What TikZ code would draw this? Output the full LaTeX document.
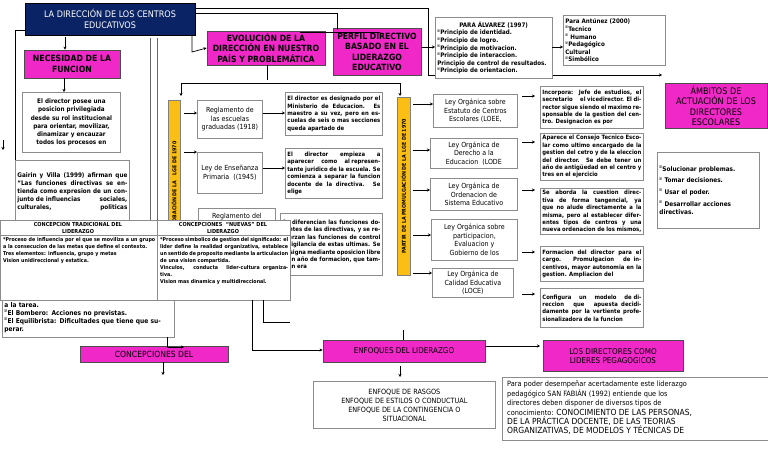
\documentclass[tikz,border=0pt]{standalone}
\usepackage{fontspec}
\setmainfont{DejaVu Sans Condensed}
\usetikzlibrary{arrows.meta}
\definecolor{mag}{RGB}{240,40,200}
\definecolor{navy}{RGB}{10,35,100}
\definecolor{org}{RGB}{250,190,20}
\begin{document}
\begin{tikzpicture}[x=1pt,y=-1pt,
 mbox/.style={draw=black!70,fill=mag,line width=0.8pt,align=center,inner sep=1pt,font=\fontsize{8.6}{10.5}\selectfont\bfseries},
 tbox/.style={draw=black!45,fill=white,line width=0.8pt,inner sep=2pt,font=\fontsize{5.9}{7.4}\selectfont\bfseries},
 lbox/.style={draw=black!45,fill=white,line width=0.8pt,align=center,inner sep=1pt,font=\fontsize{7}{8.6}\selectfont},
 obar/.style={draw=black!50,fill=org,inner sep=0pt},
 ar/.style={-{Stealth[length=3pt,width=3pt]},line width=0.7pt},
 ln/.style={line width=0.9pt}]
\useasboundingbox (0,0) rectangle (768,466);
% title
\node[fill=navy,draw=black,minimum width=170,minimum height=32,align=center,text=white,font=\fontsize{9}{11}\selectfont] (title) at (110,19) {LA DIRECCIÓN DE LOS CENTROS\\EDUCATIVOS};
\draw[ln] (15,30) -- (25,30); \draw[ln] (15,30) -- (15,240);
\draw[ar] (3,140) -- (3,150);
\draw[ln,black!60] (150,38) -- (150,222); \draw[ln,black!60] (157,38) -- (157,222);
% necesidad
\node[mbox,minimum width=96,minimum height=28] (nec) at (72,64) {NECESIDAD DE LA\\FUNCION};
\draw[ar] (65,37) -- (nec.north-|65,0);
\draw[ar] (nec.south-|64,0) -- (64,92);
\node[tbox,text width=94,align=center,minimum height=60,anchor=north west,font=\fontsize{6.3}{8.2}\selectfont\bfseries] (pos) at (22,92) {El director posee una posicion privilegiada desde su rol institucional para orientar, movilizar, dinamizar y encauzar todos los procesos en};
\node[tbox,text width=110,align=justify,anchor=north west,minimum height=62,font=\fontsize{6.3}{8}\selectfont\bfseries] (gai) at (15,160) {Gairin y Villa (1999) afirman que \quad ``Las funciones directivas se entienda como expresion de un conjunto de influencias \hfill sociales, culturales, \hfill politicas};
% bottom-left box
\node[tbox,text width=168,anchor=north west,minimum height=42,font=\fontsize{6.6}{8}\selectfont\bfseries] (tar) at (2,295) {\\a la tarea.\\\textsuperscript{¤}El Bombero: Acciones no previstas.\\\textsuperscript{¤}El Equilibrista: Dificultades que tiene que superar.};
% table
\node[tbox,minimum width=157,minimum height=80,anchor=north west] (tl) at (0,220) {};
\draw[black!45,line width=0.8pt] (0,235) -- (157,235);
\node[font=\fontsize{5.5}{7}\selectfont\bfseries,align=center] (th1) at (78,228) {CONCEPCION TRADICIONAL DEL\\LIDERAZGO};
\node[font=\fontsize{5.3}{7}\selectfont\bfseries,text width=152,align=justify,anchor=north west,inner sep=1pt] (td1) at (2,236) {*Proceso de influencia por el que se moviliza a un grupo a la consecucion de las metas que define el contexto.\\*Tres elementos: influencia, grupo y metas\\*Vision unidireccional y estatica.};
% concepciones del
\node[mbox,minimum width=148,minimum height=16,font=\fontsize{8.5}{10}\selectfont] (cdel) at (154,354) {CONCEPCIONES DEL};
\draw[ar] (167,337) -- (167,347) -- (184,347);
\draw[ar] (163,362) -- (163,375);
% evolucion, perfil
\node[mbox,minimum width=118,minimum height=34] (evo) at (266,48) {EVOLUCIÓN DE LA\\DIRECCIÓN EN NUESTRO\\PAÍS Y PROBLEMÁTICA};
\node[mbox,minimum width=88,minimum height=47] (per) at (377,52) {PERFIL DIRECTIVO\\BASADO EN EL\\LIDERAZGO\\EDUCATIVO};
\draw[ar] (192,35) -- (192,52) -- (evo.west);
\draw[ln] (195,13) -- (337,13) -- (337,30);
\draw[ln] (300,32) -- (380,32);
\draw[ar] (195,8) -- (428,8) -- (428,75) -- (662,75);
\node[tbox,text width=113,minimum height=61,anchor=north west,align=left,font=\fontsize{6.2}{7.6}\selectfont\bfseries] (alv) at (435,17) {\hspace*{22pt}PARA ÁLVAREZ (1997)\\\textsuperscript{¤}Principio de identidad.\\\textsuperscript{¤}Principio de logro.\\\textsuperscript{¤}Principio de motivacion.\\\textsuperscript{¤}Principio de interaccion.\\Principio de control de resultados.\\\textsuperscript{¤}Principio de orientacion.};
\draw[ar] (per.east|-0,47) -- (alv.west|-0,47);
\node[tbox,text width=98,minimum height=50,anchor=north west,align=left,font=\fontsize{6.2}{7.6}\selectfont\bfseries] (ant) at (563,15) {Para Antúnez (2000)\\\textsuperscript{¤}Tecnico\\\textsuperscript{¤} Humano\\\textsuperscript{¤}Pedagógico\\Cultural\\\textsuperscript{¤}Simbólico};
\draw[ar] (552,47) -- (ant.west|-0,47);
\node[mbox,minimum width=102,minimum height=45,font=\fontsize{9}{10.5}\selectfont] (amb) at (716,106) {ÁMBITOS DE\\ACTUACIÓN DE LOS\\DIRECTORES\\ESCOLARES};
\node[tbox,text width=98,minimum height=76,anchor=north west,align=left,font=\fontsize{6.4}{8.6}\selectfont\bfseries] (aml) at (657,152) {\textsuperscript{¤}Solucionar problemas.\\[3pt]\textsuperscript{¤} Tomar decisiones.\\[3pt]\textsuperscript{¤} Usar el poder.\\[3pt]\textsuperscript{¤} Desarrollar acciones\\directivas.};
% branch down from evolucion
\draw[ln] (evo.south-|267,0) -- (267,80);
\draw[ln] (181,83) -- (400,83);
\draw[ar] (181,83) -- (181,96); \draw[ar] (400,83) -- (400,96);
% orange bars
\node[obar,minimum width=12,minimum height=200,anchor=north west] (ob1) at (168,100) {};
\node[rotate=90,font=\fontsize{5.3}{6}\selectfont\bfseries] at (174,190) {A APROBACIÓN DE LA \ \ LGE DE 1970};
\node[obar,minimum width=13,minimum height=178,anchor=north west] (ob2) at (397,97) {};
\node[rotate=90,font=\fontsize{5.3}{6}\selectfont\bfseries] at (403.5,186) {PARTIR DE LA PROMULGACIÓN DE LA LGE DE 1970};
% left series
\node[lbox,minimum width=65,minimum height=38,anchor=north west] (r1) at (197,100) {Reglamento de\\las escuelas\\graduadas (1918)};
\node[lbox,minimum width=65,minimum height=41,anchor=north west] (r2) at (197,152) {Ley de Enseñanza\\Primaria \ ((1945)};
\node[lbox,minimum width=77,minimum height=17,anchor=north west] (r3) at (198,208) {Reglamento del};
\draw[ar] (184,113) -- (r1.west|-0,113);
\draw[ar] (184,152) -- (197,152);
\node[tbox,text width=93,align=justify,minimum height=43,anchor=north west] (d1) at (285,92) {El director es designado por el Ministerio de Educacion. Es maestro a su vez, pero en escuelas de seis o mas secciones queda apartado de};
\node[tbox,text width=93,align=justify,minimum height=50,anchor=north west] (d2) at (285,148) {El \quad director \quad empieza \quad a aparecer \quad como \quad al representante juridico de la escuela. Se comienza a separar la funcion docente de la directiva. Se elige};
\node[tbox,text width=98,align=justify,minimum height=62,anchor=north west] (d3) at (280,213) {Se diferencian las funciones docentes de las directivas, y se refuerzan las funciones de control y vigilancia de estas ultimas. Se designa mediante oposicion libre y un año de formacion, que tambien era};
\draw[ar] (r1.east|-0,113) -- (d1.west|-0,113);
\draw[ar] (r2.east|-0,168) -- (d2.west|-0,168);
% table right part on top
\node[tbox,minimum width=133,minimum height=80,anchor=north west] (tr) at (157,220) {};
\draw[black!45,line width=0.8pt] (157,235) -- (290,235);
\node[font=\fontsize{5.5}{7}\selectfont\bfseries,align=center] (th2) at (223,228) {CONCEPCIONES \ ``NUEVAS'' DEL\\LIDERAZGO};
\node[font=\fontsize{5.3}{7}\selectfont\bfseries,text width=128,align=justify,anchor=north west,inner sep=1pt] (td2) at (159,236) {*Proceso simbolico de gestion del significado: el lider define la realidad organizativa, establece un sentido de proposito mediante la articulacion de una vision compartida.\\* \quad Vinculos, \quad conducta \quad lider-cultura organizativa.\\* Vision mas dinamica y multidireccional.};
% right series
\node[lbox,minimum width=84,minimum height=33,anchor=north west] (l1) at (433,94) {Ley Orgánica sobre\\Estatuto de Centros\\Escolares (LOEE,};
\node[lbox,minimum width=87,minimum height=30,anchor=north west] (l2) at (430,138) {Ley Orgánica de\\Derecho a la\\Educacion \ (LODE};
\node[lbox,minimum width=87,minimum height=32,anchor=north west] (l3) at (430,178) {Ley Orgánica de\\Ordenacion de\\Sistema Educativo};
\node[lbox,minimum width=86,minimum height=41,anchor=north west] (l4) at (431,219) {Ley Orgánica sobre\\participacion,\\Evaluacion y\\Gobierno de los};
\node[lbox,minimum width=81,minimum height=29,anchor=north west] (l5) at (432,268) {Ley Orgánica de\\Calidad Educativa\\(LOCE)};
\foreach \n/\y in {l1/104,l2/150,l3/190,l4/235,l5/273}{\draw[ar] (413,\y) -- (\n.west|-0,\y);}
\node[tbox,text width=99,align=justify,minimum height=42,anchor=north west] (e1) at (540,86) {Incorpora: Jefe de estudios, el secretario \quad el vicedirector. El director sigue siendo el maximo responsable de la gestion del centro. Designacion es por};
\node[tbox,text width=99,align=justify,minimum height=45,anchor=north west] (e2) at (540,133) {Aparece el Consejo Tecnico Escolar como ultimo encargado de la gestion del cetro y de la eleccion del director. Se debe tener un año de antigüedad en el centro y tres en el ejercicio};
\node[tbox,text width=99,align=justify,minimum height=44,anchor=north west] (e3) at (540,188) {Se aborda la cuestion directiva de forma tangencial, ya que no alude directamente a la misma, pero al establecer diferentes tipos de centros y una nueva ordenacion de los mismos,};
\node[tbox,text width=99,align=justify,minimum height=35,anchor=north west] (e4) at (540,246) {Formacion del director para el cargo. \quad Promulgacion \quad de incentivos, mayor autonomia en la gestion. Ampliacion del};
\node[tbox,text width=99,align=justify,minimum height=39,anchor=north west] (e5) at (540,288) {Configura \quad un \quad modelo \quad de direccion \quad que \quad apuesta decididamente por la vertiente profesionalizadora de la funcion};
\foreach \y in {96,142,190,252,294}{\draw[ar] (522,\y) -- (535,\y);}
% enfoques
\node[mbox,minimum width=162,minimum height=22,font=\fontsize{8}{9.5}\selectfont] (enf) at (404,351) {ENFOQUES DEL LIDERAZGO};
\node[mbox,minimum width=140,minimum height=31,font=\fontsize{8}{9.5}\selectfont] (dir) at (613,356) {LOS DIRECTORES COMO\\LIDERES PEGAGOGICOS};
\draw[ar] (enf.east|-0,346) -- (540,346);
\draw[ln] (403,330) -- (enf.north-|403,0);
\draw[ar] (252,300) -- (252,350) -- (enf.west|-0,350);
\draw[ln] (263,300) -- (263,322) -- (290,322);
\draw[ar] (400,366) -- (400,377);
\node[lbox,minimum width=182,minimum height=47,anchor=north west,font=\fontsize{7.2}{9}\selectfont] (ras) at (313,381) {ENFOQUE DE RASGOS\\ENFOQUE DE ESTILOS O CONDUCTUAL\\ENFOQUE DE LA CONTINGENCIA O\\SITUACIONAL};
\node[lbox,minimum width=266,minimum height=63,anchor=north west,inner sep=3pt] (sf) at (502,377) {};
\node[align=left,anchor=north west,inner sep=0pt,font=\fontsize{7.3}{9.4}\selectfont] (sft) at (507,381) {Para poder desempeñar acertadamente este liderazgo\\pedagógico SAN FABIÁN (1992) entiende que los\\directores deben disponer de diversos tipos de\\conocimiento: {\fontsize{8.4}{10}\selectfont CONOCIMIENTO DE LAS PERSONAS,}\\{\fontsize{8.4}{10}\selectfont DE LA PRÁCTICA DOCENTE, DE LAS TEORIAS}\\{\fontsize{8.4}{10}\selectfont ORGANIZATIVAS, DE MODELOS Y TÉCNICAS DE}};
\end{tikzpicture}
\end{document}
